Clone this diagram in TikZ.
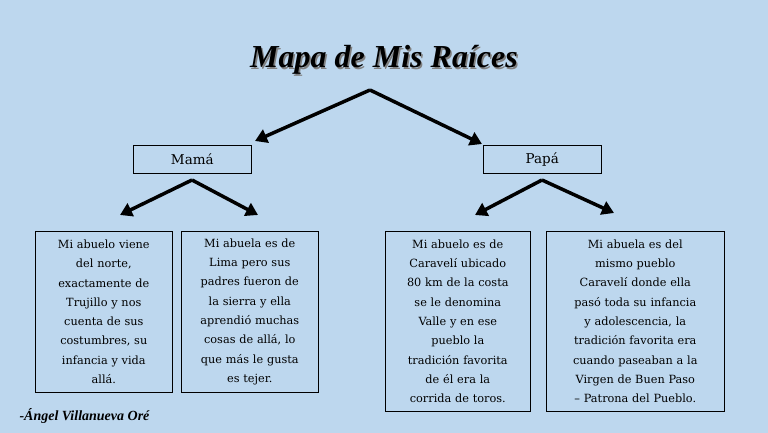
\documentclass[tikz,border=0pt]{standalone}
\usepackage{fontspec}
\setmainfont{Liberation Serif}
\newfontfamily\bodyfont{DejaVu Serif}
\usetikzlibrary{arrows.meta}
\definecolor{bg}{HTML}{BDD7EE}
\begin{document}
\begin{tikzpicture}[x=1pt,y=-1pt,
  arr/.style={line width=3.5pt,-{Triangle[length=12pt,width=14pt]}},
  lbl/.style={draw,line width=0.6pt,font=\bodyfont\fontsize{13.5}{18}\selectfont,anchor=north west,inner sep=0pt},
  txt/.style={draw,line width=0.6pt,anchor=north west,align=center,inner sep=0pt,font=\bodyfont\fontsize{11.3}{19.3}\selectfont}]
\fill[bg] (0,0) rectangle (768,433);
\useasboundingbox (0,0) rectangle (768,433);
\node[font=\fontsize{32}{34}\selectfont\bfseries\itshape,text=gray] at (385.5,61.5) {Mapa de Mis Raíces};
\node (title) [font=\fontsize{32}{34}\selectfont\bfseries\itshape] at (384,60) {Mapa de Mis Raíces};
\coordinate (top) at (370,90);
\node (mama) [lbl,minimum width=118pt,minimum height=28pt] at (133,145) {Mamá};
\node (papa) [lbl,minimum width=118pt,minimum height=28pt] at (483,145) {Papá};
\coordinate (ma) at (192,180);
\coordinate (pa) at (542,180);
\draw[arr] (top) -- (255,141);
\draw[arr] (top) -- (482,144);
\draw[arr] (ma) -- (120,215);
\draw[arr] (ma) -- (258,215);
\draw[arr] (pa) -- (475,215);
\draw[arr] (pa) -- (614,213);
\node (b1) [txt,minimum width=137pt,minimum height=161pt,text width=135pt] at (35,231) {Mi abuelo viene\\del norte,\\exactamente de\\Trujillo y nos\\cuenta de sus\\costumbres, su\\infancia y vida\\allá.};
\node (b2) [txt,minimum width=137pt,minimum height=161pt,text width=135pt] at (181,231) {Mi abuela es de\\Lima pero sus\\padres fueron de\\la sierra y ella\\aprendió muchas\\cosas de allá, lo\\que más le gusta\\es tejer.};
\node (b3) [txt,minimum width=145pt,minimum height=180pt,text width=143pt] at (385,231) {Mi abuelo es de\\Caravelí ubicado\\80 km de la costa\\se le denomina\\Valle y en ese\\pueblo la\\tradición favorita\\de él era la\\corrida de toros.};
\node (b4) [txt,minimum width=178pt,minimum height=180pt,text width=176pt] at (546,231) {Mi abuela es del\\mismo pueblo\\Caravelí donde ella\\pasó toda su infancia\\y adolescencia, la\\tradición favorita era\\cuando paseaban a la\\Virgen de Buen Paso\\– Patrona del Pueblo.};
\node (author) [anchor=west,font=\fontsize{14}{16}\selectfont\bfseries\itshape] at (16,416) {-Ángel\ Villanueva\ Oré};
\end{tikzpicture}
\end{document}
